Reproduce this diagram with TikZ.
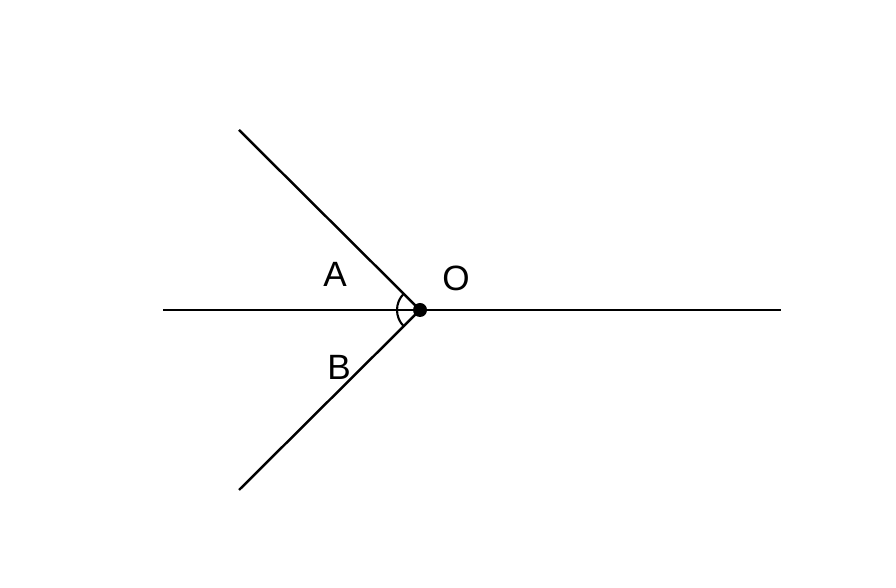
\documentclass[tikz,border=0pt]{standalone}
\usepackage{fontspec}
\setmainfont{Liberation Sans}

\begin{document}
\begin{tikzpicture}[x=0.02cm, y=0.02cm]
  % raggi dal vertice O
  \useasboundingbox (0,0) rectangle (896,588);
  \tikzset{ray/.style={line width=1.4pt, black},
           lbl/.style={font=\fontsize{20}{24}\selectfont}}
    \coordinate (O) at (420,278);
    \coordinate (left) at (163,278);
    \coordinate (right) at (781,278);
    \coordinate (up) at (239,458);
    \coordinate (down) at (239,98);
    \draw[ray] (left) -- (right);
    \draw[ray] (O) -- (up);
    \draw[ray] (O) -- (down);
    \draw[line width=1.2pt] ([shift={(135:23)}]O) arc (135:225:23);
    \fill (O) circle(7);
    \node[lbl] (A) at (335,314) {A};
    \node[lbl] (B) at (339,221) {B};
    \node[lbl] (labO) at (456,310) {O};
  \end{tikzpicture}
\end{document}
